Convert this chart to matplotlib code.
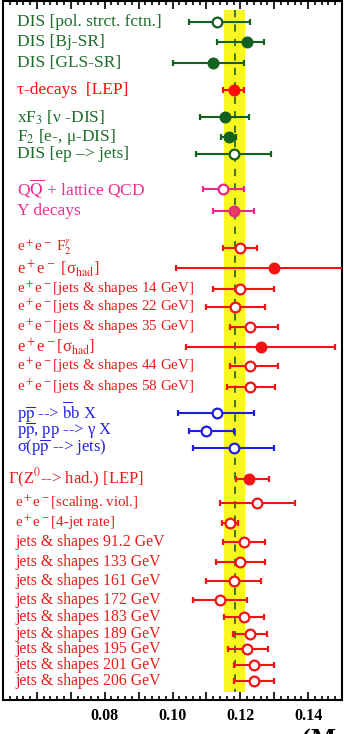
import matplotlib
matplotlib.use("Agg")
import matplotlib.pyplot as plt

plt.rcParams['font.family'] = ['Liberation Serif', 'DejaVu Serif']
plt.rcParams['mathtext.fontset'] = 'stix'

# alpha_s(M_Z) measurements, top to bottom
labels = [
    "DIS [pol. strct. fctn.]", "DIS [Bj-SR]", "DIS [GLS-SR]",
    "\u03c4-decays  [LEP]",
    "xF$_3$ [\u03bd -DIS]", "F$_2$ [e-, \u03bc-DIS]", "DIS [ep \u2013> jets]",
    r"Q$\overline{\rm Q}$ + lattice QCD", "\u03a5 decays",
    r"e$^+$e$^-$ F$_2^{\gamma}$", "e$^+$e$^-$ [\u03c3$_{\\rm had}$]",
    r"e$^+$e$^-$[jets & shapes 14 GeV]", r"e$^+$e$^-$[jets & shapes 22 GeV]",
    r"e$^+$e$^-$[jets & shapes 35 GeV]", "e$^+$e$^-$[\u03c3$_{\\rm had}$]",
    r"e$^+$e$^-$[jets & shapes 44 GeV]", r"e$^+$e$^-$[jets & shapes 58 GeV]",
    r"p$\overline{\rm p}$ --> $\overline{\rm b}$b X",
    "p$\\overline{\\rm p}$, pp --> \u03b3 X",
    "\u03c3(p$\\overline{\\rm p}$ --> jets)",
    "\u0393(Z$^0$--> had.) [LEP]",
    r"e$^+$e$^-$[scaling. viol.]", r"e$^+$e$^-$[4-jet rate]",
    "jets & shapes 91.2 GeV", "jets & shapes 133 GeV", "jets & shapes 161 GeV",
    "jets & shapes 172 GeV", "jets & shapes 183 GeV", "jets & shapes 189 GeV",
    "jets & shapes 195 GeV", "jets & shapes 201 GeV", "jets & shapes 206 GeV",
]
alpha_s = [0.113, 0.122, 0.112, 0.1181, 0.1155, 0.1166, 0.118, 0.115, 0.118,
           0.1198, 0.130, 0.120, 0.1184, 0.123, 0.126, 0.123, 0.123,
           0.113, 0.110, 0.118, 0.1226, 0.125, 0.117,
           0.121, 0.120, 0.118, 0.114, 0.121, 0.1228, 0.122, 0.124, 0.124]
err_lo = [0.008, 0.009, 0.012, 0.0031, 0.0075, 0.0022, 0.011, 0.006, 0.006,
          0.005, 0.029, 0.008, 0.0086, 0.006, 0.022, 0.006, 0.007,
          0.0115, 0.005, 0.012, 0.0038, 0.011, 0.0024,
          0.006, 0.0071, 0.008, 0.008, 0.0058, 0.0049, 0.0057, 0.006, 0.006]
err_hi = [0.010, 0.005, 0.009, 0.0031, 0.0071, 0.0022, 0.011, 0.0062, 0.006,
          0.005, 0.021, 0.010, 0.009, 0.008, 0.022, 0.008, 0.0073,
          0.011, 0.008, 0.012, 0.0058, 0.011, 0.0024,
          0.0063, 0.0074, 0.008, 0.008, 0.0061, 0.0052, 0.0061, 0.006, 0.006]
filled = [False, True, True, True, True, True, False, False, True,
          False, True, False, False, False, True, False, False,
          False, False, False, True, False, False,
          False, False, False, False, False, False, False, False, False]
group = ["dis"] * 3 + ["tau"] + ["dis"] * 3 + ["onia"] * 2 + ["ee"] * 8 + \
        ["pp"] * 3 + ["ee"] * 3 + ["ee"] * 9

world_avg = 0.1184
world_err = 0.0031

# row positions (top = 0) and label styling
row_pos = [22, 42, 63, 90, 117, 137, 154, 189, 211, 248, 268, 289, 307, 327,
           347, 366, 387, 413, 431, 448, 479, 503, 523, 542, 562, 581, 600,
           617, 634, 649, 665, 681]
colors = {"dis": "#14601e", "tau": "#ff0a0a", "onia": "#e8288c",
          "ee": "#f01414", "pp": "#1e1ee6"}
text_colors = {"dis": "#1d6b2a", "tau": "#ff0a0a", "onia": "#ee2d90",
               "ee": "#e81c1c", "pp": "#2424e0"}

fig = plt.figure(figsize=(3.44, 7.34), dpi=100)
ax = fig.add_axes([3 / 344, 34.5 / 734, 339 / 344, 699 / 734])
ax.set_xlim(0.05, 0.15)
ax.set_ylim(700, 0)

ax.fill_betweenx([10, 692], world_avg - world_err, world_avg + world_err,
                 color="#f8f820", lw=0, zorder=1)
ax.plot([world_avg, world_avg], [10, 692], ls=(0, (4, 4)), color="#2d6a2d",
        lw=1.3, zorder=2)

for i, lab in enumerate(labels):
    g = group[i]
    c = colors[g]
    fc = c if filled[i] else "white"
    if i == 8:
        fc = "#e8405c"
    ax.errorbar(alpha_s[i], row_pos[i], xerr=[[err_lo[i]], [err_hi[i]]],
                fmt="o", ms=7, mfc=fc, mec=c, mew=1.6, color=c, elinewidth=1.5,
                capsize=2.5, capthick=1.5, zorder=3)
    if g in ("dis", "tau", "onia"):
        fs = 12.5
    elif i in (10, 14):
        fs = 12
    elif i >= 23:
        fs = 11.3
    elif g == "pp" or i == 20:
        fs = 12
    else:
        fs = 10.8
    x0 = 0.05 + 14 / 3390
    if i == 20:
        x0 = 0.05 + 5 / 3390
    elif i >= 21:
        x0 = 0.05 + 12 / 3390
    ax.text(x0, row_pos[i], lab, color=text_colors[g], fontsize=fs,
            va="center", ha="left")

ax.set_yticks([])
ax.set_xticks([0.05 + 0.002 * k for k in range(51)], minor=True)
ax.set_xticks([0.06, 0.07, 0.08, 0.09, 0.10, 0.11, 0.12, 0.13, 0.14])
ax.set_xticklabels(["", "", "0.08", "", "0.10", "", "0.12", "", "0.14"],
                   fontweight="bold", fontsize=11.5)
ax.tick_params(axis="x", which="both", direction="in", top=True, bottom=True,
               width=1.2, pad=6)
ax.tick_params(axis="x", which="major", length=6)
ax.tick_params(axis="x", which="minor", length=3)
for s in ax.spines.values():
    s.set_linewidth(1.5)

fig.text(276 / 344, -12 / 734, r"$\mathbf{\alpha_s}$(M$_Z$)", fontsize=19,
         fontweight="bold", ha="left", va="baseline")

fig.savefig("out.png", dpi=100)
